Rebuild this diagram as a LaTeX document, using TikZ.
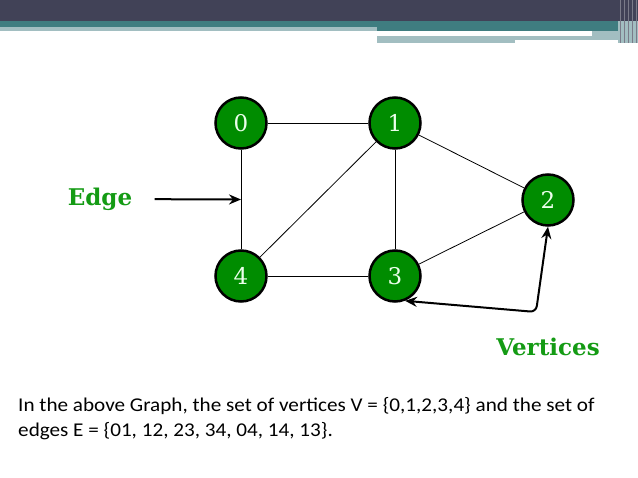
\documentclass[tikz,border=0pt]{standalone}
\usepackage{fontspec}
\setmainfont{Carlito}
\newfontfamily\graphfont{DejaVu Serif}
\usepackage{xcolor}
\usetikzlibrary{arrows.meta, positioning}

\definecolor{barDark}{HTML}{414257}
\definecolor{barTeal}{HTML}{3F7D80}
\definecolor{barLight}{HTML}{A2BEC1}
\definecolor{vertexGreen}{HTML}{008C00}
\definecolor{tagGreen}{HTML}{149B14}

\tikzset{
  vertex/.style={circle, draw=black, line width=2.5pt, fill=vertexGreen, minimum size=51pt, inner sep=0pt, text=green!8!white, font=\graphfont\fontsize{23}{23}\selectfont},
  link/.style={draw=black, line width=0.8pt},
  pointer/.style={draw=black, line width=2pt, -{Stealth[length=12pt, width=10pt, inset=4pt]}},
  tag/.style={text=tagGreen, font=\graphfont\bfseries\fontsize{23}{23}\selectfont},
  caption/.style={anchor=base west, inner sep=0pt, xscale=1.085, font=\fontsize{19.5}{25}\selectfont},
}

\begin{document}
\begin{tikzpicture}[x=1pt, y=-1pt]
\useasboundingbox[fill=white] (0,0) rectangle (638,478);
% Header bars
\fill[barDark] (0,0) rectangle (638,21);
\fill[barTeal] (0,21) rectangle (638,27);
\fill[barLight] (0,27) rectangle (377,31);
\fill[barTeal] (377,27) rectangle (620,31);
\fill[barLight] (377,36) rectangle (515,43);
\fill[barLight] (515,36) rectangle (592,40);
\fill[barLight] (592,31) rectangle (620,40);
\fill[barLight] (618,21) rectangle (638,43);
\foreach \sx in {620,624,628,632,636}
  \draw[barDark!70, line width=0.8pt] (\sx,0) -- (\sx,43);
% Vertices
\node[vertex] (v0) at (241,123) {0};
\node[vertex] (v1) at (395,123) {1};
\node[vertex] (v2) at (548,200) {2};
\node[vertex] (v3) at (395,276) {3};
\node[vertex] (v4) at (241,276) {4};
% Edges
\draw[link] (v0) -- coordinate (e04) (v4);
\draw[link] (v0) -- (v1);
\draw[link] (v1) -- (v2);
\draw[link] (v2) -- (v3);
\draw[link] (v3) -- (v4);
\draw[link] (v1) -- (v4);
\draw[link] (v1) -- (v3);
% Labels
\node[tag] (edgetag) at (100,199) {Edge};
\node[tag] (verttag) at (548,347) {Vertices};
\draw[pointer, shorten <=19pt] (edgetag) -- (e04);
\coordinate (bend) at (536,312);
\draw[pointer, {Stealth[length=12pt, width=10pt, inset=4pt]}-{Stealth[length=12pt, width=10pt, inset=4pt]}, rounded corners=6pt] (v3.-68) -- (bend) -- (v2.south);
% Caption
\node[caption] (line1) at (18,412) {In the above Graph, the set of vertices V = \{0,1,2,3,4\} and the set of};
\node[caption] (line2) at (18,437) {edges E = \{01, 12, 23, 34, 04, 14, 13\}.};
\end{tikzpicture}
\end{document}
